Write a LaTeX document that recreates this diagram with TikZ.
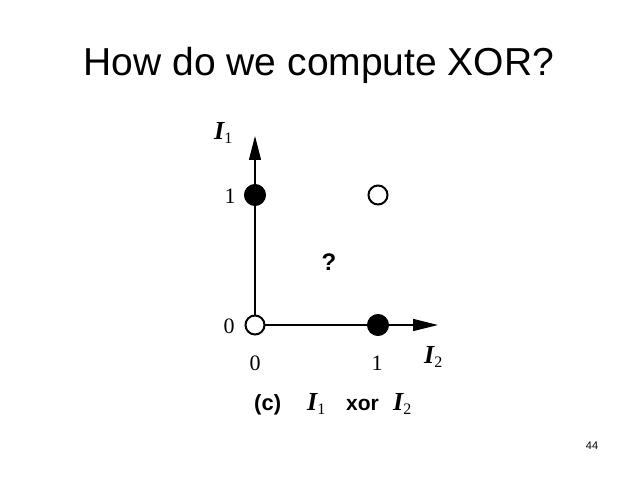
\documentclass[tikz,border=0pt]{standalone}
\usepackage{fontspec}
\setmainfont{Liberation Serif}
\newfontfamily\arialf{Liberation Sans}
\usetikzlibrary{arrows.meta}
\newcommand{\subl}[1]{\raisebox{-4pt}{\normalfont\fontsize{16}{16}\selectfont #1}}
\begin{document}
\begin{tikzpicture}[x=1pt,y=-1pt,
  axis/.style={line width=1.3pt},
  filleddot/.style={circle,fill=black,draw=black,line width=1pt,minimum size=21pt,inner sep=0pt},
  opendot/.style={circle,fill=white,draw=black,line width=2pt,minimum size=19pt,inner sep=0pt},
  lbl/.style={font=\fontsize{22}{24}\selectfont,inner sep=0pt},
  axlbl/.style={font=\fontsize{26}{28}\selectfont\bfseries\itshape,inner sep=0pt,anchor=base west},
  captxt/.style={font=\arialf\fontsize{22}{24}\selectfont\bfseries,inner sep=0pt,anchor=base west}]
\useasboundingbox (0,0) rectangle (638,478);
\fill[white] (0,0) rectangle (638,478);
% title
\node[font=\arialf\fontsize{39}{44}\selectfont,anchor=base,inner sep=0pt] (title) at (319,76) {How do we compute XOR?};
% axes
\coordinate (o) at (255,325);
\coordinate (ytip) at (255,136);
\coordinate (xtip) at (438,325);
\draw[axis,-{Triangle[length=24pt,width=12pt]}] (o) -- (ytip);
\draw[axis,-{Triangle[length=25pt,width=12pt]}] (o) -- (xtip);
% points
\node[opendot] (p00) at (o) {};
\node[filleddot] (p01) at (255,195) {};
\node[filleddot] (p10) at (378,325) {};
\node[opendot] (p11) at (378,195) {};
% labels
\node[font=\arialf\fontsize{24}{26}\selectfont\bfseries,inner sep=0pt] (q) at (329,262) {?};
\node[lbl] (y1) at (230,196) {1};
\node[lbl] (y0) at (229,326) {0};
\node[lbl] (x0) at (255,363) {0};
\node[lbl] (x1) at (377,363) {1};
\node[axlbl] (i1) at (214,140) {I\subl{1}};
\node[axlbl] (i2) at (424,364) {I\subl{2}};
% caption
\node[captxt] (c) at (254,411) {(c)};
\node[axlbl] (ci1) at (307,411) {I\subl{1}};
\node[captxt,font=\arialf\fontsize{21}{24}\selectfont\bfseries] (xor) at (346,411) {xor};
\node[axlbl] (ci2) at (393,411) {I\subl{2}};
% page number
\node[font=\arialf\fontsize{11}{12}\selectfont,inner sep=0pt] (pg) at (592,446) {44};
\end{tikzpicture}
\end{document}
